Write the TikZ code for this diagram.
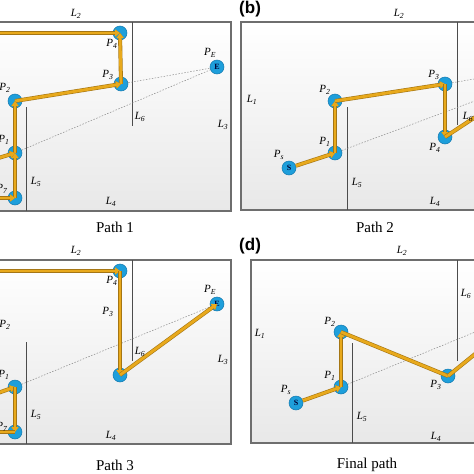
\documentclass[tikz,border=0pt]{standalone}
\usepackage{fontspec}
\setmainfont{Liberation Serif}
\newfontfamily\panelfont{Liberation Sans}
\usetikzlibrary{arrows.meta}
\definecolor{pathgold}{HTML}{E8A91C}
\definecolor{pathedge}{HTML}{A57614}
\definecolor{nodeblue}{HTML}{1E9FDB}
\definecolor{nodeedge}{HTML}{1378AE}
\definecolor{wallgray}{HTML}{6E6E6E}
\newcommand{\lbl}[2]{\textit{#1}\textsubscript{\textit{#2}}}

\begin{document}
\begin{tikzpicture}[x=1pt, y=-1pt,
  room/.style={draw=wallgray, line width=1.2pt, top color=white, bottom color=black!9},
  wall/.style={draw=black!70, line width=1pt},
  pt/.style={circle, fill=nodeblue, draw=nodeedge, line width=0.5pt, minimum size=14pt, inner sep=0pt, font=\bfseries\fontsize{8}{8}\selectfont, text=black!80!blue},
  seg/.style={line width=4pt, draw=pathedge, postaction={draw=pathgold, line width=2.8pt}},
  arr/.style={-{Triangle[length=5pt,width=7pt]}},
  sight/.style={draw=black!45, dash pattern=on 1.5pt off 1.5pt, line width=0.5pt},
  lab/.style={inner sep=0pt, font=\fontsize{11}{12}\selectfont},
  captext/.style={inner sep=0pt, font=\fontsize{15}{18}\selectfont},
  tag/.style={inner sep=0pt, anchor=west, font=\panelfont\bfseries\fontsize{17}{20}\selectfont}]

\useasboundingbox (0,0) rectangle (474,474);
\clip (0,0) rectangle (474,474);

% (a) Path 1
\draw[room] (-5,22) rectangle (231,211);
\draw[wall] (26,107) -- (26,211);
\draw[wall] (132,22) -- (132,126);
\node[pt] (P4a) at (120,33) {};
\node[pt] (P3a) at (121,84) {};
\node[pt] (P2a) at (15,101) {};
\node[pt] (P1a) at (15,153) {};
\node[pt] (P7a) at (15,198) {};
\node[pt] (Ea) at (217,67) {E};
\coordinate (ina1) at (-5,33);
\coordinate (ina2) at (-5,159);
\coordinate (ina3) at (-5,198);
\draw[sight] (P3a) -- (Ea);
\draw[sight] (P1a) -- (Ea);
\draw[seg, arr] (ina1) -- (P4a.center);
\draw[seg, arr] (P3a.center) -- (P4a.center);
\draw[seg, arr] (P2a.center) -- (P3a.center);
\draw[seg, arr] (P1a.center) -- (P2a.center);
\draw[seg, arr] (P7a.center) -- (P1a.center);
\draw[seg, arr] (ina2) -- (P1a.center);
\draw[seg, arr] (ina3) -- (P7a.center);
\node[lab] (tL2a) at (76,14) {\lbl{L}{2}};
\node[lab] (tL3a) at (223,125) {\lbl{L}{3}};
\node[lab] (tL4a) at (111,202) {\lbl{L}{4}};
\node[lab] (tL5a) at (36,182) {\lbl{L}{5}};
\node[lab] (tL6a) at (140,117) {\lbl{L}{6}};
\node[lab] (tP1a) at (4,140) {\lbl{P}{1}};
\node[lab] (tP2a) at (5,88) {\lbl{P}{2}};
\node[lab] (tP3a) at (108,75) {\lbl{P}{3}};
\node[lab] (tP4a) at (112,44) {\lbl{P}{4}};
\node[lab] (tP7a) at (2,189) {\lbl{P}{7}};
\node[lab] (tPEa) at (210,53) {\lbl{P}{E}};
\node[captext] (capa) at (115,227) {Path 1};

% (b) Path 2
\node[tag] (tagb) at (239,9) {(b)};
\draw[room] (241,22) rectangle (480,210);
\draw[wall] (347,107) -- (347,210);
\draw[wall] (457,22) -- (457,125);
\node[pt] (Sb) at (289,168) {S};
\node[pt] (P1b) at (335,153) {};
\node[pt] (P2b) at (335,101) {};
\node[pt] (P3b) at (445,84) {};
\node[pt] (P4b) at (445,137) {};
\coordinate (outb1) at (480,114);
\coordinate (outb2) at (480,78);
\coordinate (outb3) at (480,99);
\draw[sight] (P3b) -- (outb2);
\draw[sight] (P1b) -- (outb3);
\draw[seg, arr] (Sb) -- (P1b.center);
\draw[seg, arr] (P1b.center) -- (P2b.center);
\draw[seg, arr] (P2b.center) -- (P3b.center);
\draw[seg, arr] (P3b.center) -- (P4b.center);
\draw[seg] (P4b.center) -- (outb1);
\node[lab] (tL1b) at (252,100) {\lbl{L}{1}};
\node[lab] (tL2b) at (399,14) {\lbl{L}{2}};
\node[lab] (tL4b) at (435,202) {\lbl{L}{4}};
\node[lab] (tL5b) at (357,183) {\lbl{L}{5}};
\node[lab] (tL6b) at (468,117) {\lbl{L}{6}};
\node[lab] (tPsb) at (279,155) {\lbl{P}{s}};
\node[lab] (tP1b) at (325,142) {\lbl{P}{1}};
\node[lab] (tP2b) at (325,90) {\lbl{P}{2}};
\node[lab] (tP3b) at (434,75) {\lbl{P}{3}};
\node[lab] (tP4b) at (435,148) {\lbl{P}{4}};
\node[captext] (capb) at (375,227) {Path 2};

% (c) Path 3
\draw[room] (-5,260) rectangle (231,444);
\draw[wall] (26,342) -- (26,444);
\draw[wall] (132,260) -- (132,361);
\node[pt] (P4c) at (120,271) {};
\node[pt] (P3c) at (120,375) {};
\node[pt] (P1c) at (15,387) {};
\node[pt] (P7c) at (15,432) {};
\node[pt] (Ec) at (217,304) {E};
\coordinate (inc1) at (-5,271);
\coordinate (inc2) at (-5,394);
\coordinate (inc3) at (-5,432);
\draw[sight] (P1c) -- (Ec);
\draw[seg, arr] (inc1) -- (P4c.center);
\draw[seg, arr] (P4c.center) -- (P3c.center);
\draw[seg, arr] (P3c.center) -- (Ec.center);
\draw[seg, arr] (inc2) -- (P1c.center);
\draw[seg, arr] (P1c.center) -- (P7c.center);
\draw[seg] (P7c.center) -- (inc3);
\node[lab] (tL2c) at (76,251) {\lbl{L}{2}};
\node[lab] (tL3c) at (223,360) {\lbl{L}{3}};
\node[lab] (tL4c) at (111,436) {\lbl{L}{4}};
\node[lab] (tL5c) at (36,415) {\lbl{L}{5}};
\node[lab] (tL6c) at (140,352) {\lbl{L}{6}};
\node[lab] (tP1c) at (4,375) {\lbl{P}{1}};
\node[lab] (tP2c) at (5,325) {\lbl{P}{2}};
\node[lab] (tP3c) at (108,312) {\lbl{P}{3}};
\node[lab] (tP4c) at (112,281) {\lbl{P}{4}};
\node[lab] (tP7c) at (2,427) {\lbl{P}{7}};
\node[lab] (tPEc) at (210,290) {\lbl{P}{E}};
\node[captext] (capc) at (115,465) {Path 3};

% (d) Final path
\node[tag] (tagd) at (239,246) {(d)};
\draw[room] (251,260) rectangle (480,443);
\draw[wall] (352,343) -- (352,443);
\draw[wall] (457,260) -- (457,361);
\node[pt] (Sd) at (296,403) {S};
\node[pt] (P1d) at (341,387) {};
\node[pt] (P2d) at (341,332) {};
\node[pt] (P3d) at (448,376) {};
\coordinate (outd1) at (480,350);
\coordinate (outd2) at (480,330);
\draw[sight] (P1d) -- (outd2);
\draw[seg, arr] (Sd) -- (P1d.center);
\draw[seg, arr] (P1d.center) -- (P2d.center);
\draw[seg] (P2d.center) -- (P3d.center);
\draw[seg] (P3d.center) -- (outd1);
\node[lab] (tL1d) at (260,334) {\lbl{L}{1}};
\node[lab] (tL2d) at (402,251) {\lbl{L}{2}};
\node[lab] (tL4d) at (436,437) {\lbl{L}{4}};
\node[lab] (tL5d) at (362,417) {\lbl{L}{5}};
\node[lab] (tL6d) at (466,294) {\lbl{L}{6}};
\node[lab] (tPsd) at (286,390) {\lbl{P}{s}};
\node[lab] (tP1d) at (330,376) {\lbl{P}{1}};
\node[lab] (tP2d) at (330,322) {\lbl{P}{2}};
\node[lab] (tP3d) at (436,385) {\lbl{P}{3}};
\node[captext] (capd) at (367,465) {Final path};
\end{tikzpicture}
\end{document}
